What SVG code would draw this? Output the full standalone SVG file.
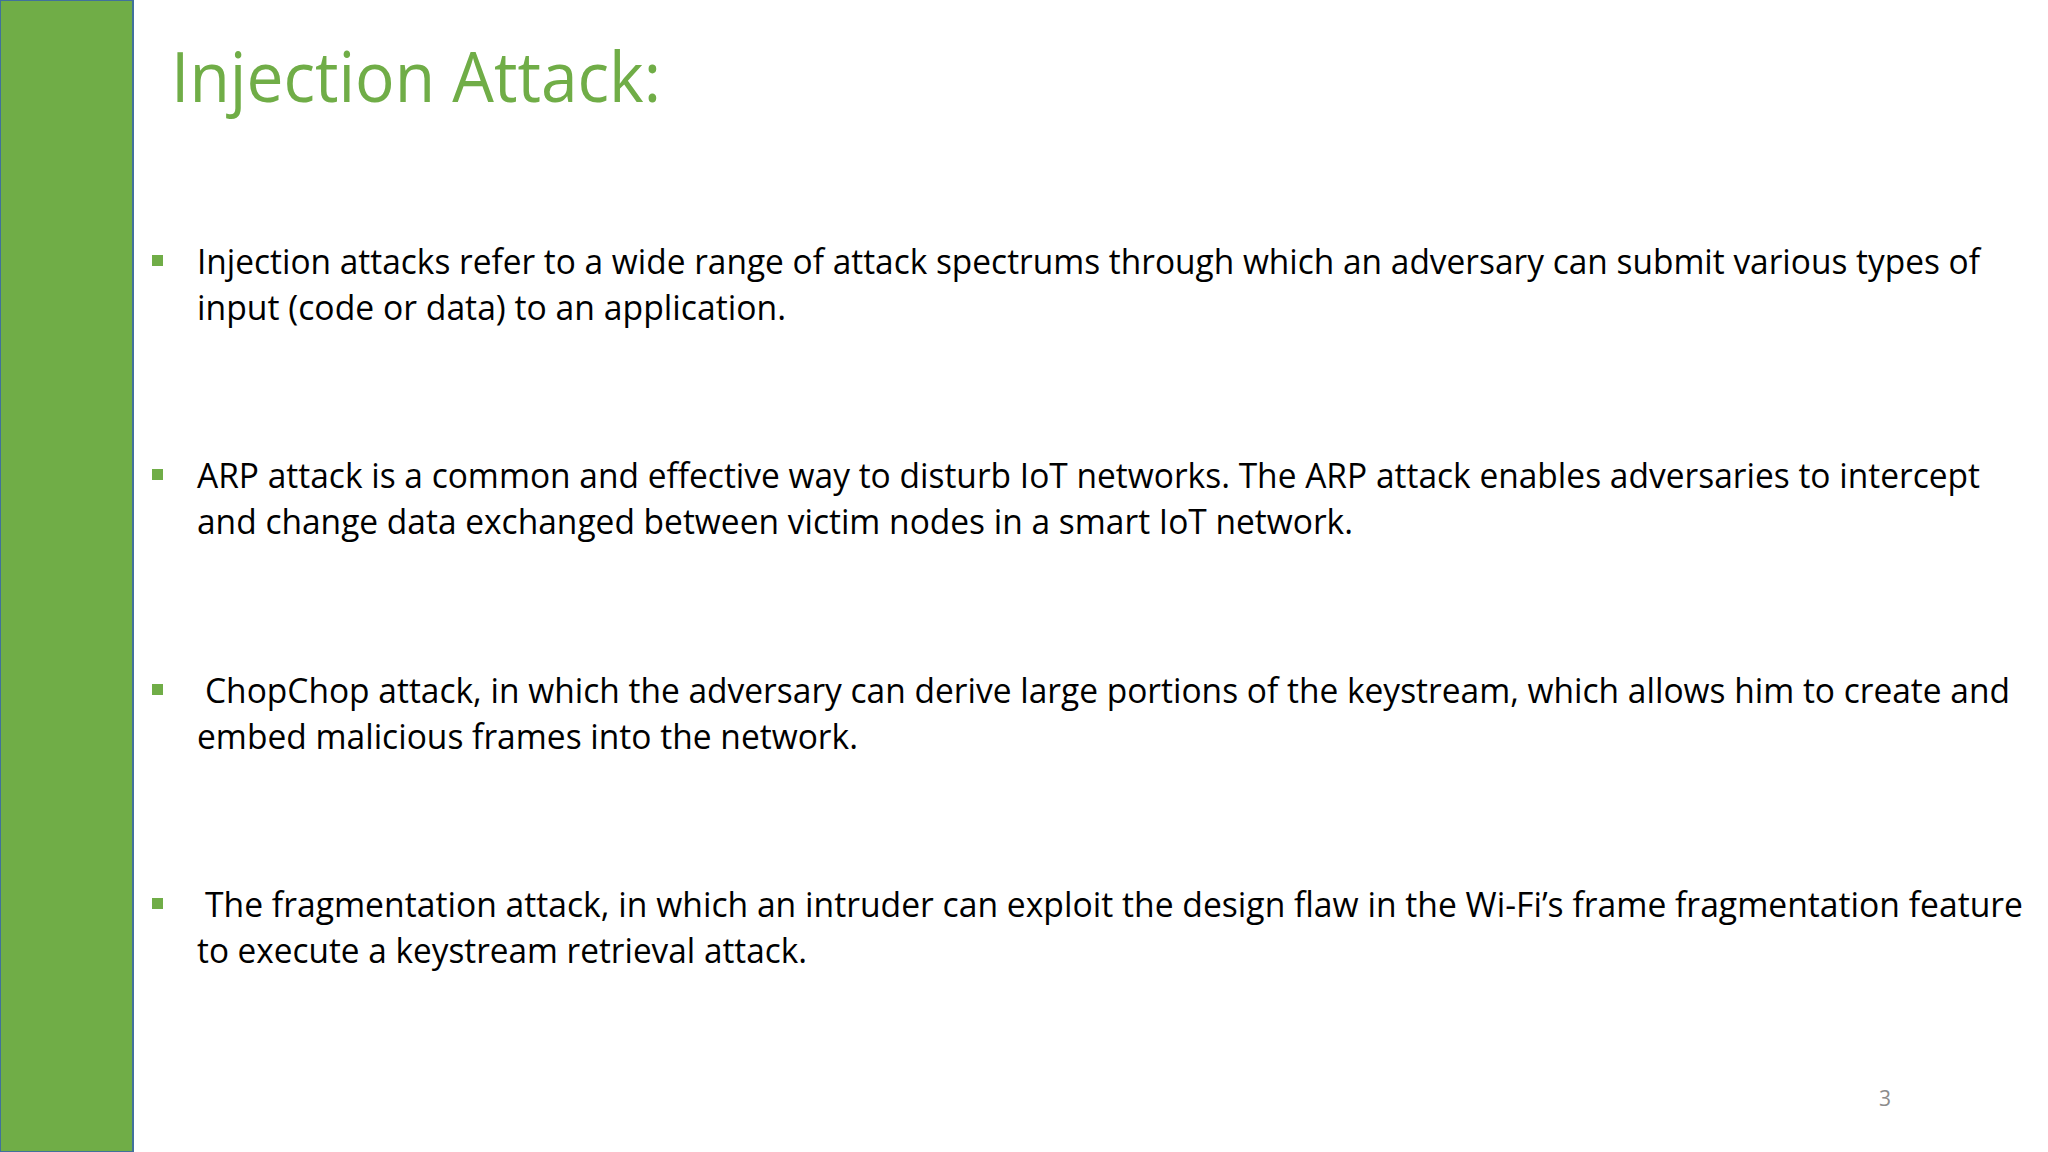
<svg xmlns="http://www.w3.org/2000/svg" width="2048" height="1152" viewBox="0 0 2048 1152">
<style>
.t{font-family:"Open Sans","Liberation Sans",sans-serif;font-size:34px;fill:#000}
.b{fill:#70AD47}
</style>
<rect width="2048" height="1152" fill="#fff"/>
<rect x="0" y="0" width="133" height="1152" fill="#70AD47" stroke="#41719C" stroke-width="2"/>
<text x="171" y="102" font-family="'Open Sans','Liberation Sans',sans-serif" font-size="70" fill="#70AD47" textLength="490" lengthAdjust="spacingAndGlyphs">Injection Attack:</text>
<g id="b1"><rect class="b" x="152" y="255" width="11" height="11"/>
<text class="t" x="197" y="274" textLength="1783" lengthAdjust="spacingAndGlyphs">Injection attacks refer to a wide range of attack spectrums through which an adversary can submit various types of</text>
<text class="t" x="197" y="320" textLength="589" lengthAdjust="spacingAndGlyphs">input (code or data) to an application.</text></g>
<g id="b2"><rect class="b" x="152" y="469" width="11" height="11"/>
<text class="t" x="197" y="488" textLength="1783" lengthAdjust="spacingAndGlyphs">ARP attack is a common and effective way to disturb IoT networks. The ARP attack enables adversaries to intercept</text>
<text class="t" x="197" y="534" textLength="1156" lengthAdjust="spacingAndGlyphs">and change data exchanged between victim nodes in a smart IoT network.</text></g>
<g id="b3"><rect class="b" x="152" y="684" width="11" height="11"/>
<text class="t" x="205" y="703" textLength="1805" lengthAdjust="spacingAndGlyphs">ChopChop attack, in which the adversary can derive large portions of the keystream, which allows him to create and</text>
<text class="t" x="197" y="749" textLength="661" lengthAdjust="spacingAndGlyphs">embed malicious frames into the network.</text></g>
<g id="b4"><rect class="b" x="152" y="898" width="11" height="11"/>
<text class="t" x="205" y="917" textLength="1818" lengthAdjust="spacingAndGlyphs">The fragmentation attack, in which an intruder can exploit the design flaw in the Wi-Fi’s frame fragmentation feature</text>
<text class="t" x="197" y="963" textLength="610" lengthAdjust="spacingAndGlyphs">to execute a keystream retrieval attack.</text></g>
<text x="1885" y="1106" font-family="'Open Sans','Liberation Sans',sans-serif" font-size="21" fill="#8c8c8c" text-anchor="middle">3</text>
</svg>
